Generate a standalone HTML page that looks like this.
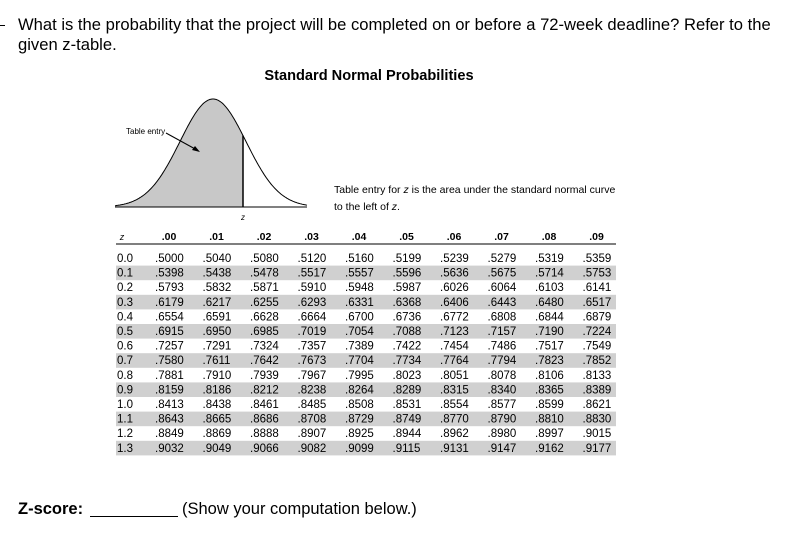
<!DOCTYPE html>
<html><head><meta charset="utf-8"><style>
body{margin:0;background:#fff;width:802px;height:556px;overflow:hidden;position:relative;font-family:"Liberation Sans",Arial,sans-serif}
.q{position:absolute;left:18px;font-size:16.6px;color:#000}
</style></head><body>
<div style="position:absolute;left:0;top:25px;width:5px;height:1px;background:#000"></div>
<div class="q" style="top:15px">What is the probability that the project will be completed on or before a 72-week deadline? Refer to the</div>
<div class="q" style="top:35px">given z-table.</div>
<svg id="chart" width="802" height="556" style="position:absolute;left:0;top:0">
<text x="369" y="80" text-anchor="middle" font-weight="bold" font-size="14.6">Standard Normal Probabilities</text>
<g id="curve"></g>
<text x="126" y="134" font-size="8">Table entry</text>
<line x1="166" y1="133" x2="197" y2="150" stroke="#000" stroke-width="1"/>
<polygon points="200,152 192,150 195,146" fill="#000"/>
<text x="243" y="220" font-size="8" font-style="italic" text-anchor="middle">z</text>
<text x="334" y="193" font-size="10.5">Table entry for <tspan font-style="italic">z</tspan> is the area under the standard normal curve</text>
<text x="334" y="210" font-size="10.5">to the left of <tspan font-style="italic">z</tspan>.</text>
<g id="table"></g>
</svg>
<div style="position:absolute;left:18px;top:500px;font-size:16.5px;font-weight:bold">Z-score:</div>
<div style="position:absolute;left:90px;top:516px;width:88px;border-bottom:1px solid #000"></div>
<div style="position:absolute;left:182px;top:500px;font-size:16.5px">(Show your computation below.)</div>
<script>
const colHeaders=[".00",".01",".02",".03",".04",".05",".06",".07",".08",".09"];
const zRows=["0.0","0.1","0.2","0.3","0.4","0.5","0.6","0.7","0.8","0.9","1.0","1.1","1.2","1.3"];
const probs=[
[".5000",".5040",".5080",".5120",".5160",".5199",".5239",".5279",".5319",".5359"],
[".5398",".5438",".5478",".5517",".5557",".5596",".5636",".5675",".5714",".5753"],
[".5793",".5832",".5871",".5910",".5948",".5987",".6026",".6064",".6103",".6141"],
[".6179",".6217",".6255",".6293",".6331",".6368",".6406",".6443",".6480",".6517"],
[".6554",".6591",".6628",".6664",".6700",".6736",".6772",".6808",".6844",".6879"],
[".6915",".6950",".6985",".7019",".7054",".7088",".7123",".7157",".7190",".7224"],
[".7257",".7291",".7324",".7357",".7389",".7422",".7454",".7486",".7517",".7549"],
[".7580",".7611",".7642",".7673",".7704",".7734",".7764",".7794",".7823",".7852"],
[".7881",".7910",".7939",".7967",".7995",".8023",".8051",".8078",".8106",".8133"],
[".8159",".8186",".8212",".8238",".8264",".8289",".8315",".8340",".8365",".8389"],
[".8413",".8438",".8461",".8485",".8508",".8531",".8554",".8577",".8599",".8621"],
[".8643",".8665",".8686",".8708",".8729",".8749",".8770",".8790",".8810",".8830"],
[".8849",".8869",".8888",".8907",".8925",".8944",".8962",".8980",".8997",".9015"],
[".9032",".9049",".9066",".9082",".9099",".9115",".9131",".9147",".9162",".9177"]];
const NS="http://www.w3.org/2000/svg";
function mk(t,a,p){const e=document.createElementNS(NS,t);for(const k in a)e.setAttribute(k,a[k]);p.appendChild(e);return e;}
const cg=document.getElementById('curve');
const cx=213,sd=33,base=207,peak=99,zx=243;
const pts=[];for(let x=115;x<=307;x+=1){const u=(x-cx)/sd;pts.push([x,base-(base-peak)*Math.exp(-u*u/2)]);}
let fill="M115,"+base;pts.forEach(p=>{if(p[0]<=zx)fill+=" L"+p[0]+","+p[1].toFixed(1);});fill+=" L"+zx+","+base+" Z";
const f=mk('path',{d:fill,fill:'#c8c8c8'},cg);


const c=mk('path',{d:"M"+pts.map(p=>p[0]+","+p[1].toFixed(1)).join(" L"),fill:'none',stroke:'#000','stroke-width':1},cg);


const zu=(zx-cx)/sd;
const zl=mk('line',{x1:zx,x2:zx,y1:base,y2:base-(base-peak)*Math.exp(-zu*zu/2),stroke:'#000','stroke-width':1.5},cg);


const bl=mk('line',{x1:115,x2:307,y1:base,y2:base,stroke:'#000','stroke-width':1},cg);


const tg=document.getElementById('table');
const x0=155,dx=47.5,y0=262,dy=14.6;
const colX=j=>x0+dx*j;const rowY=i=>y0+dy*i;
zRows.forEach((z,i)=>{if(i%2==1){const r=mk('rect',{x:116,y:rowY(i)-11,width:500,height:dy,fill:'#d0d0d0'},tg);

}});
const hz=mk('text',{x:122,y:240,'font-size':9,'font-style':'italic','text-anchor':'middle'},tg);hz.textContent='z';


colHeaders.forEach((h,j)=>{const t=mk('text',{x:colX(j)+14,y:240,'font-size':10.5,'font-weight':'bold','text-anchor':'middle'},tg);t.textContent=h;

});
const hl=mk('line',{x1:116,x2:616,y1:244,y2:244,stroke:'#333','stroke-width':1.3},tg);


zRows.forEach((z,i)=>{const t=mk('text',{x:117,y:rowY(i),'font-size':11.5},tg);t.textContent=z;


probs[i].forEach((v,j)=>{const c=mk('text',{x:colX(j),y:rowY(i),'font-size':11.5},tg);c.textContent=v;

});});
</script>
</body></html>
